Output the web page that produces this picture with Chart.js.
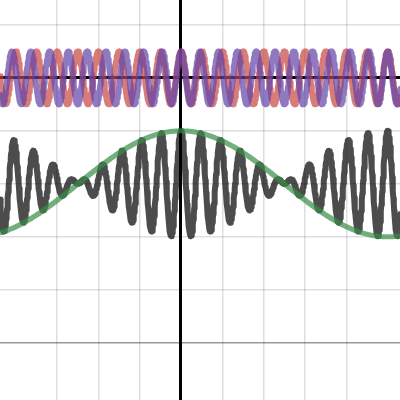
<!DOCTYPE html>
<html>
<head>
<meta charset="utf-8">
<script src="https://cdn.jsdelivr.net/npm/chart.js@4"></script>
<style>
  html, body { margin: 0; padding: 0; background: #fff; }
  #wrap { width: 400px; height: 400px; }
</style>
</head>
<body>
<div id="wrap"><canvas id="graph"></canvas></div>
<script>
const X_RANGE = [-4.38, 5.30];
const Y_RANGE = [-6.08, 1.47];

// curves: y = offset + amp * cos(freq * x)
const curveNames = ['red', 'purple', 'beat', 'envelope'];
const curveFreqs = [4 * Math.PI, 4.4 * Math.PI, null, 0.2 * Math.PI];
const curveAmps = [0.5, 0.5, 0.5, 1];
const curveOffsets = [0, 0, -2, -2];
const curveColors = ['rgba(199,68,64,0.7)', 'rgba(96,66,166,0.7)', 'rgba(0,0,0,0.7)', 'rgba(56,140,70,0.7)'];
const curveWidths = [6, 6, 6, 5];

const STEP = 0.01;

function sample(i) {
    const pts = [];
    for (let x = X_RANGE[0] - 0.2; x <= X_RANGE[1] + 0.2; x += STEP) {
        let y;
        if (curveFreqs[i] === null) {
            // beat = red + purple, shifted down
            y = curveOffsets[i] + curveAmps[i] * (Math.cos(curveFreqs[0] * x) + Math.cos(curveFreqs[1] * x));
        } else {
            y = curveOffsets[i] + curveAmps[i] * Math.cos(curveFreqs[i] * x);
        }
        pts.push({ x: x, y: y });
    }
    return pts;
}

// Chart.js paints the first dataset last (on top): purple over red, green over black
const order = [1, 0, 3, 2];
const datasets = order.map(i => ({
    label: curveNames[i],
    data: sample(i),
    borderColor: curveColors[i],
    borderWidth: curveWidths[i],
    borderJoinStyle: 'round',
    borderCapStyle: 'round',
    pointRadius: 0,
    showLine: true,
    fill: false,
    tension: 0
}));

function gridColor(ctx) {
    const v = ctx.tick.value;
    if (Math.abs(v - Math.round(v)) > 1e-6) return 'rgba(0,0,0,0)';
    if (Math.round(v) === 0) return '#000';
    if (Math.round(v) % 5 === 0) return 'rgba(0,0,0,0.4)';
    return 'rgba(0,0,0,0.13)';
}
function gridWidth(ctx) {
    const v = ctx.tick.value;
    if (Math.abs(v) < 1e-6) return 3;
    return 1.5;
}

new Chart(document.getElementById('graph'), {
    type: 'scatter',
    data: { datasets: datasets },
    options: {
        responsive: true,
        maintainAspectRatio: false,
        animation: false,
        layout: { padding: 0 },
        plugins: { legend: { display: false }, tooltip: { enabled: false } },
        scales: {
            x: {
                type: 'linear',
                min: X_RANGE[0],
                max: X_RANGE[1],
                ticks: { display: false, stepSize: 1 },
                border: { display: false },
                grid: { color: gridColor, lineWidth: gridWidth, drawTicks: false }
            },
            y: {
                type: 'linear',
                min: Y_RANGE[0],
                max: Y_RANGE[1],
                ticks: { display: false, stepSize: 1 },
                border: { display: false },
                grid: { color: gridColor, lineWidth: gridWidth, drawTicks: false }
            }
        }
    }
});
</script>
</body>
</html>
